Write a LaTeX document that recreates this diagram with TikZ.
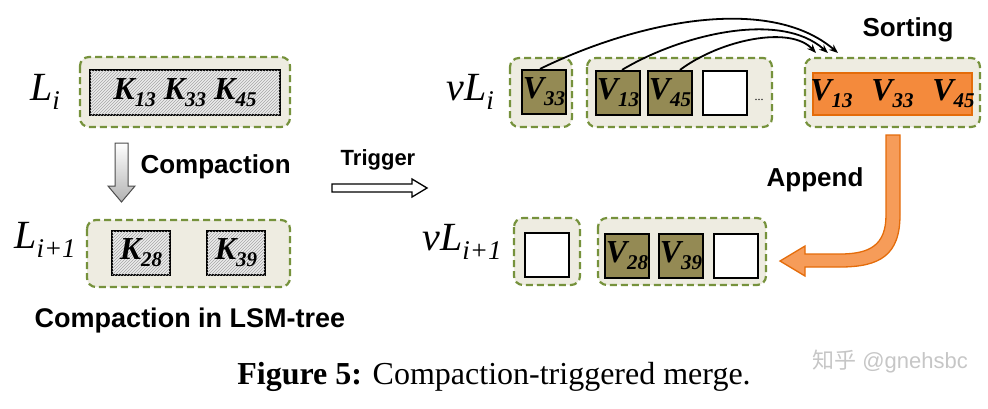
\documentclass[tikz,border=0pt]{standalone}
\usepackage{fontspec}
\setmainfont{Liberation Serif}
\setsansfont{Liberation Sans}
\newfontfamily\cjk{Noto Sans CJK SC}
\usetikzlibrary{patterns,arrows.meta}
\definecolor{grp}{RGB}{238,236,225}
\definecolor{grpline}{RGB}{118,146,60}
\definecolor{olive}{RGB}{148,138,84}
\definecolor{org}{RGB}{244,138,60}
\definecolor{orgd}{RGB}{228,108,10}
\newcommand{\mysub}[1]{\raisebox{-7pt}{\fontsize{21}{21}\selectfont\itshape #1}}
\newcommand{\mylsub}[1]{\raisebox{-9pt}{\fontsize{27}{28}\selectfont\itshape #1}}
\begin{document}
\begin{tikzpicture}[x=1pt,y=-1pt,
 grpbox/.style={draw=grpline,fill=grp,dash pattern=on 7pt off 4pt,line width=2.2pt,rounded corners=9pt},
 kbox/.style={draw=black,line width=2.2pt,fill=gray!15,postaction={pattern=north east lines,pattern color=gray!70}},
 vbox/.style={draw=black,line width=2.2pt,fill=olive,minimum width=44pt,minimum height=44pt,inner sep=0pt},
 ebox/.style={draw=black,line width=2.2pt,fill=white,minimum width=44pt,minimum height=44pt,inner sep=0pt},
 lbl/.style={font=\sffamily\bfseries\fontsize{26}{28}\selectfont},
 big/.style={font=\itshape\fontsize{40}{44}\selectfont,inner sep=0pt},
 vt/.style={font=\bfseries\itshape\fontsize{32}{34}\selectfont,inner sep=0pt},
 cv/.style={-{Stealth[length=9pt,width=7pt]},line width=1.8pt}]
\useasboundingbox (0,0) rectangle (988,408);
% left side
\node[big] (li) at (45,92) {L\mylsub{i}};
\node[big] (li1) at (45,240) {L\mylsub{i+1}};
\draw[grpbox] (80,57) rectangle (290,127);
\node[kbox,minimum width=190pt,minimum height=45pt,inner sep=0pt] (kr) at (185,92.5) {};
\node[vt] (kt) at (kr) {K\mysub{13} K\mysub{33} K\mysub{45}};
\draw[grpbox] (87,220) rectangle (290,287);
\node[kbox,minimum width=58pt,minimum height=44pt,inner sep=0pt] (k28) at (141,253) {};
\node[vt] at (k28) {K\mysub{28}};
\node[kbox,minimum width=58pt,minimum height=44pt,inner sep=0pt] (k39) at (236,253) {};
\node[vt] at (k39) {K\mysub{39}};
\draw[draw=gray!60!black,line width=1pt,top color=white,bottom color=gray!60]
 (115,143) -- (128,143) -- (128,186) -- (135,186) -- (121.5,202) -- (108,186) -- (115,186) -- cycle;
\node[lbl,anchor=west] (comp) at (137,167) {Compaction};
\node[lbl,font=\sffamily\bfseries\fontsize{27}{29}\selectfont] (cap1) at (190,321) {Compaction in LSM-tree};
% trigger
\node[lbl,font=\sffamily\bfseries\fontsize{22}{24}\selectfont] (trig) at (378,160) {Trigger};
\draw[line width=1.3pt,fill=white] (332,184) -- (412,184) -- (412,179) -- (427,188) -- (412,197) -- (412,192) -- (332,192) -- cycle;
% right side
\node[big] (vli) at (470,92) {vL\mylsub{i}};
\node[big] (vli1) at (462,242) {vL\mylsub{i+1}};
\draw[grpbox] (510,58) rectangle (572,127);
\draw[grpbox] (587,58) rectangle (772,127);
\draw[grpbox] (805,58) rectangle (980,127);
\node[vbox] (v33) at (544,92) {};
\node[vt] at (v33) {V\mysub{33}};
\node[vbox] (v13) at (618,93) {};
\node[vt] at (v13) {V\mysub{13}};
\node[vbox] (v45) at (670,93) {};
\node[vt] at (v45) {V\mysub{45}};
\node[ebox] (e1) at (725,93) {};
\node[font=\fontsize{12}{12}\selectfont] (dots) at (759,100) {...};
\node[draw=orgd,line width=2pt,fill=org,minimum width=159pt,minimum height=42pt,inner sep=0pt] (sorted) at (892.5,94) {};
\node[vt] at (sorted) {V\mysub{13}\,\, V\mysub{33}\,\, V\mysub{45}};
\node[lbl] (sort) at (908,30) {Sorting};
\coordinate (t1) at (838,53);
\coordinate (t2) at (828,53);
\coordinate (t3) at (816,53);
\draw[cv] ([xshift=-4pt]v33.north) .. controls (640,20) and (770,-5) .. (t1);
\draw[cv] ([xshift=4pt]v13.north) .. controls (680,35) and (780,10) .. (t2);
\draw[cv] ([xshift=10pt]v45.north) .. controls (720,40) and (790,25) .. (t3);
\draw[grpbox] (514,218) rectangle (580,285);
\draw[grpbox] (598,218) rectangle (766,285);
\node[ebox] (e0) at (547,255) {};
\node[vbox] (v28) at (627,256) {};
\node[vt] at (v28) {V\mysub{28}};
\node[vbox] (v39) at (681,256) {};
\node[vt] at (v39) {V\mysub{39}};
\node[ebox] (e2) at (736,256) {};
\node[lbl] (app) at (815,180) {Append};
\draw[draw=orgd,fill=org!85,line width=1.3pt]
 (886,135) -- (900,135) -- (900,215) .. controls (900,255) and (880,267) .. (840,267) -- (805,267) -- (805,276) -- (780,261) -- (805,246) -- (805,254) -- (840,254) .. controls (870,254) and (886,245) .. (886,215) -- cycle;
% caption
\node[font=\fontsize{32}{34}\selectfont] (cap) at (494,377) {\textbf{Figure 5:} Compaction-triggered merge.};
\node[font=\sffamily\fontsize{22}{24}\selectfont,text=gray!45] (wm) at (890,362) {{\cjk 知乎} @gnehsbc};
\end{tikzpicture}
\end{document}
